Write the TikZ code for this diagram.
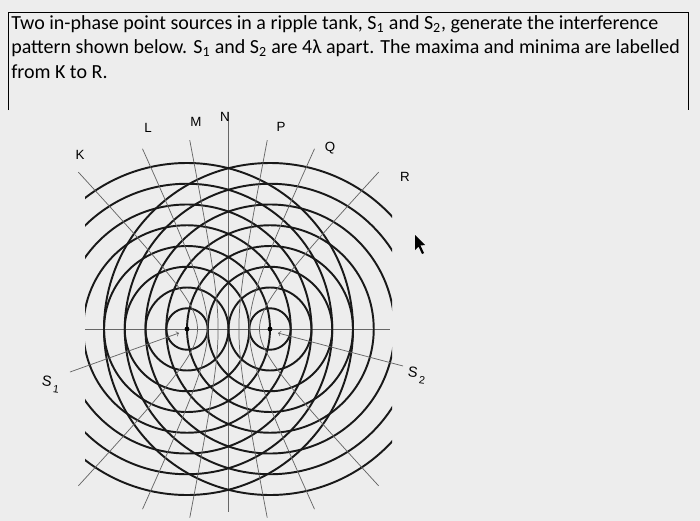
\documentclass[tikz,border=0pt]{standalone}
\usepackage{fontspec}
\setmainfont{Carlito}
\newfontfamily\labf{Liberation Sans}
\begin{document}
\begin{tikzpicture}[x=0.75pt,y=-0.75pt,
  wave/.style={line width=1.45pt,black!90},
  ray/.style={line width=0.55pt,black!60},
  lab/.style={font=\labf\fontsize{10}{12}\selectfont,inner sep=0pt},
  txt/.style={font=\fontsize{15}{18}\selectfont,anchor=west,inner sep=0pt}]
\fill[black!7] (0,0) rectangle (700,521);
\useasboundingbox (0,0) rectangle (700,521);
% text box
\draw[line width=0.7pt] (8,110) -- (8,12) -- (688,12) -- (688,110);
\node[txt] (t1) at (11,24) {Two in-phase point sources in a ripple tank, S\textsubscript{1} and S\textsubscript{2}, generate the interference};
\node[txt] (t2) at (11,48) {pattern shown below. S\textsubscript{1} and S\textsubscript{2} are 4λ apart. The maxima and minima are labelled};
\node[txt] (t3) at (11,72) {from K to R.};
% sources
\coordinate (s1) at (187,329);
\coordinate (s2) at (270,329);
% axes
\draw[ray] (85,329) -- (390,329);
\draw[ray] (228.5,112) -- (228.5,512);
% circles
\begin{scope}
\clip (85,158) rectangle (392,502);
\foreach \r in {1,...,8} {
  \draw[wave] (s1) circle[radius=\r*20.75*0.75pt];
  \draw[wave] (s2) circle[radius=\r*20.75*0.75pt];
}
\end{scope}
\fill (s1) circle[radius=1.8pt];
\fill (s2) circle[radius=1.8pt];
% nodal / antinodal hyperbolas
\foreach \a/\b/\T in {31/33.1/2.26, 20.75/44.8/2.1, 10.4/52.6/1.99} {
  \draw[ray] plot[domain=-\T:\T,samples=60,smooth] ({228.5-\a*cosh(\x)},{329+\b*sinh(\x)});
  \draw[ray] plot[domain=-\T:\T,samples=60,smooth] ({228.5+\a*cosh(\x)},{329+\b*sinh(\x)});
}
% labels
\node[lab] (K) at (80,155) {K};
\node[lab] (L) at (148,128) {L};
\node[lab] (M) at (196,122) {M};
\node[lab] (N) at (225,117) {N};
\node[lab] (P) at (281,127) {P};
\node[lab] (Q) at (330,148) {Q};
\node[lab] (R) at (405,177) {R};
\node[lab,font=\labf\fontsize{11}{12}\selectfont,rotate=-8] (S1) at (47,381) {S};
\node[lab,font=\labf\fontsize{8}{9}\selectfont,rotate=-8] (S1i) at (56,389) {1};
\node[lab,font=\labf\fontsize{11}{12}\selectfont,rotate=-8] (S2) at (413,372) {S};
\node[lab,font=\labf\fontsize{8}{9}\selectfont,rotate=-8] (S2i) at (422,380) {2};
\coordinate (a1) at (70,372);
\coordinate (a2) at (403,366);
\coordinate (e1) at (179,333);
\coordinate (e2) at (278,333);
\draw[ray,->] (a1) -- (e1);
\draw[ray,->] (a2) -- (e2);
% cursor
\fill[black] (415,235) -- (415,250) -- (418.5,246.5) -- (422,254) -- (424,253) -- (420.5,245.5) -- (425,245) -- cycle;
\end{tikzpicture}
\end{document}
